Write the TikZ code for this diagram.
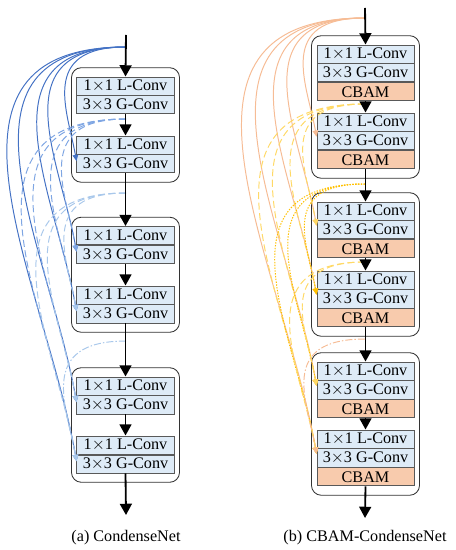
\documentclass[tikz,border=0pt]{standalone}
\usepackage{fontspec}
\setmainfont{Liberation Serif}
\usepackage{tikz}
\usetikzlibrary{positioning, arrows.meta, fit}

\definecolor{convfill}{HTML}{DEEBF7}
\definecolor{cbamfill}{HTML}{F8CBAD}
\definecolor{boxline}{HTML}{595959}
\definecolor{blueA}{HTML}{4472C4}
\definecolor{blueB}{HTML}{7FA6E3}
\definecolor{blueC}{HTML}{A9C8EB}
\definecolor{salmon}{HTML}{F6BC95}
\definecolor{yellowA}{HTML}{FFD966}
\definecolor{yellowB}{HTML}{FFC000}

\begin{document}
\begin{tikzpicture}[x=0.025cm, y=0.025cm,
	conv/.style={draw=boxline, fill=convfill, line width=0.7pt, minimum width=2.425cm, minimum height=0.45cm, inner sep=0pt, font=\fontsize{11.5}{13}\selectfont},
	cbam/.style={conv, fill=cbamfill},
	block/.style={draw=black!80, line width=0.6pt, rounded corners=7pt, inner xsep=0.125cm, inner ysep=0.22cm},
	mainarrow/.style={-{Triangle[length=8pt, width=8.5pt]}, line width=1.3pt, black},
	link/.style={-{Triangle[length=4.5pt, width=4pt]}, line width=0.7pt},
	caption/.style={font=\fontsize{11.5}{13}\selectfont}
	]
	\useasboundingbox (0,0) rectangle (455,-550);

	% (a) CondenseNet layers
	\node[conv] (a-l1) at (125.5,-86) {1$\times$1 L-Conv};
	\node[conv, below=0pt of a-l1] (a-g1) {3$\times$3 G-Conv};
	\node[conv] (a-l2) at (125.5,-145) {1$\times$1 L-Conv};
	\node[conv, below=0pt of a-l2] (a-g2) {3$\times$3 G-Conv};
	\node[conv] (a-l3) at (125.5,-235.5) {1$\times$1 L-Conv};
	\node[conv, below=0pt of a-l3] (a-g3) {3$\times$3 G-Conv};
	\node[conv] (a-l4) at (125.5,-295) {1$\times$1 L-Conv};
	\node[conv, below=0pt of a-l4] (a-g4) {3$\times$3 G-Conv};
	\node[conv] (a-l5) at (125.5,-386) {1$\times$1 L-Conv};
	\node[conv, below=0pt of a-l5] (a-g5) {3$\times$3 G-Conv};
	\node[conv] (a-l6) at (125.5,-445) {1$\times$1 L-Conv};
	\node[conv, below=0pt of a-l6] (a-g6) {3$\times$3 G-Conv};

	\node[block, fit=(a-l1)(a-g2)] (a-b1) {};
	\node[block, fit=(a-l3)(a-g4)] (a-b2) {};
	\node[block, fit=(a-l5)(a-g6)] (a-b3) {};

	\coordinate (a-in) at (126,-35);
	\coordinate (a-out) at (126,-515);
	\coordinate (a-t0) at (126,-47);
	\coordinate (a-t1) at (126,-119);
	\coordinate (a-t2) at (126,-193);
	\coordinate (a-t4) at (126,-341);

	% dense links (a)
	\foreach \dst/\a/\b in {a-g2/87/51, a-g3/126/92, a-g4/150/118, a-g5/189/159, a-g6/213/186}
		\draw[link, blueA] (a-t0) .. controls +(180:\a) and +(100:\b) .. ([yshift=2pt]\dst.west);
	\foreach \dst/\a/\b in {a-g3/95/59, a-g4/120/86, a-g5/158/127, a-g6/183/153}
		\draw[link, blueB, dash pattern=on 5pt off 2.5pt] (a-t1) .. controls +(180:\a) and +(100:\b) .. ([yshift=2pt]\dst.west);
	\foreach \dst/\a/\b in {a-g4/89/53, a-g5/127/94, a-g6/152/120}
		\draw[link, blueC, dash pattern=on 5pt off 2.5pt] (a-t2) .. controls +(180:\a) and +(100:\b) .. ([yshift=2pt]\dst.west);
	\draw[link, blueC, dash pattern=on 5pt off 1.5pt on 1pt off 1.5pt] (a-t4) .. controls +(180:90) and +(100:54) .. ([yshift=2pt]a-g6.west);

	% main path (a)
	\draw[mainarrow] (a-in) -- (a-l1.north);
	\draw[mainarrow] (a-g1.south) -- (a-l2.north);
	\draw[mainarrow] (a-g2.south) -- (a-l3.north);
	\draw[mainarrow] (a-g3.south) -- (a-l4.north);
	\draw[mainarrow] (a-g4.south) -- (a-l5.north);
	\draw[mainarrow] (a-g5.south) -- (a-l6.north);
	\draw[mainarrow] (a-g6.south) -- (a-out);

	\node[caption] (a-cap) at (126,-538) {(a) CondenseNet};

	% (b) CBAM-CondenseNet layers
	\node[conv] (b-l1) at (365.5,-54) {1$\times$1 L-Conv};
	\node[conv, below=0pt of b-l1] (b-g1) {3$\times$3 G-Conv};
	\node[cbam, below=0pt of b-g1] (b-c1) {CBAM};
	\node[conv] (b-l2) at (365.5,-122) {1$\times$1 L-Conv};
	\node[conv, below=0pt of b-l2] (b-g2) {3$\times$3 G-Conv};
	\node[cbam, below=0pt of b-g2] (b-c2) {CBAM};
	\node[conv] (b-l3) at (365.5,-211) {1$\times$1 L-Conv};
	\node[conv, below=0pt of b-l3] (b-g3) {3$\times$3 G-Conv};
	\node[cbam, below=0pt of b-g3] (b-c3) {CBAM};
	\node[conv] (b-l4) at (365.5,-280) {1$\times$1 L-Conv};
	\node[conv, below=0pt of b-l4] (b-g4) {3$\times$3 G-Conv};
	\node[cbam, below=0pt of b-g4] (b-c4) {CBAM};
	\node[conv] (b-l5) at (365.5,-371) {1$\times$1 L-Conv};
	\node[conv, below=0pt of b-l5] (b-g5) {3$\times$3 G-Conv};
	\node[cbam, below=0pt of b-g5] (b-c5) {CBAM};
	\node[conv] (b-l6) at (365.5,-439) {1$\times$1 L-Conv};
	\node[conv, below=0pt of b-l6] (b-g6) {3$\times$3 G-Conv};
	\node[cbam, below=0pt of b-g6] (b-c6) {CBAM};

	\node[block, fit=(b-l1)(b-c2)] (b-b1) {};
	\node[block, fit=(b-l3)(b-c4)] (b-b2) {};
	\node[block, fit=(b-l5)(b-c6)] (b-b3) {};

	\coordinate (b-in) at (365,-8);
	\coordinate (b-out) at (365,-518);
	\coordinate (b-t0) at (365,-18);
	\coordinate (b-t1) at (365,-104);
	\coordinate (b-t2) at (365,-184);
	\coordinate (b-t3) at (365,-262);
	\coordinate (b-t4) at (365,-339);

	% dense links (b)
	\foreach \dst/\a/\b in {b-g2/90/53, b-g3/127/93, b-g4/156/124, b-g5/194/165, b-g6/223/196}
		\draw[link, salmon] (b-t0) .. controls +(180:\a) and +(100:\b) .. ([yshift=3pt]\dst.west);
	\foreach \dst/\a/\b in {b-g3/91/55, b-g4/120/86, b-g5/158/127, b-g6/187/158}
		\draw[link, yellowA, dash pattern=on 5pt off 2.5pt] (b-t1) .. controls +(180:\a) and +(100:\b) .. ([yshift=3pt]\dst.west);
	\foreach \dst/\a/\b in {b-g4/87/50, b-g5/125/91, b-g6/153/122}
		\draw[link, yellowB, dash pattern=on 1pt off 1pt] (b-t2) .. controls +(180:\a) and +(100:\b) .. ([yshift=3pt]\dst.west);
	\foreach \dst/\a/\b in {b-g5/92/56, b-g6/121/86}
		\draw[link, yellowA, dash pattern=on 5pt off 2.5pt] (b-t3) .. controls +(180:\a) and +(100:\b) .. ([yshift=3pt]\dst.west);
	\draw[link, salmon, dash pattern=on 5pt off 1.5pt on 1pt off 1.5pt] (b-t4) .. controls +(180:88) and +(100:52) .. ([yshift=3pt]b-g6.west);

	% main path (b)
	\draw[mainarrow] (b-in) -- (b-l1.north);
	\draw[mainarrow] (b-c1.south) -- (b-l2.north);
	\draw[mainarrow] (b-c2.south) -- (b-l3.north);
	\draw[mainarrow] (b-c3.south) -- (b-l4.north);
	\draw[mainarrow] (b-c4.south) -- (b-l5.north);
	\draw[mainarrow] (b-c5.south) -- (b-l6.north);
	\draw[mainarrow] (b-c6.south) -- (b-out);

	\node[caption] (b-cap) at (365,-538) {(b) CBAM-CondenseNet};
\end{tikzpicture}
\end{document}
